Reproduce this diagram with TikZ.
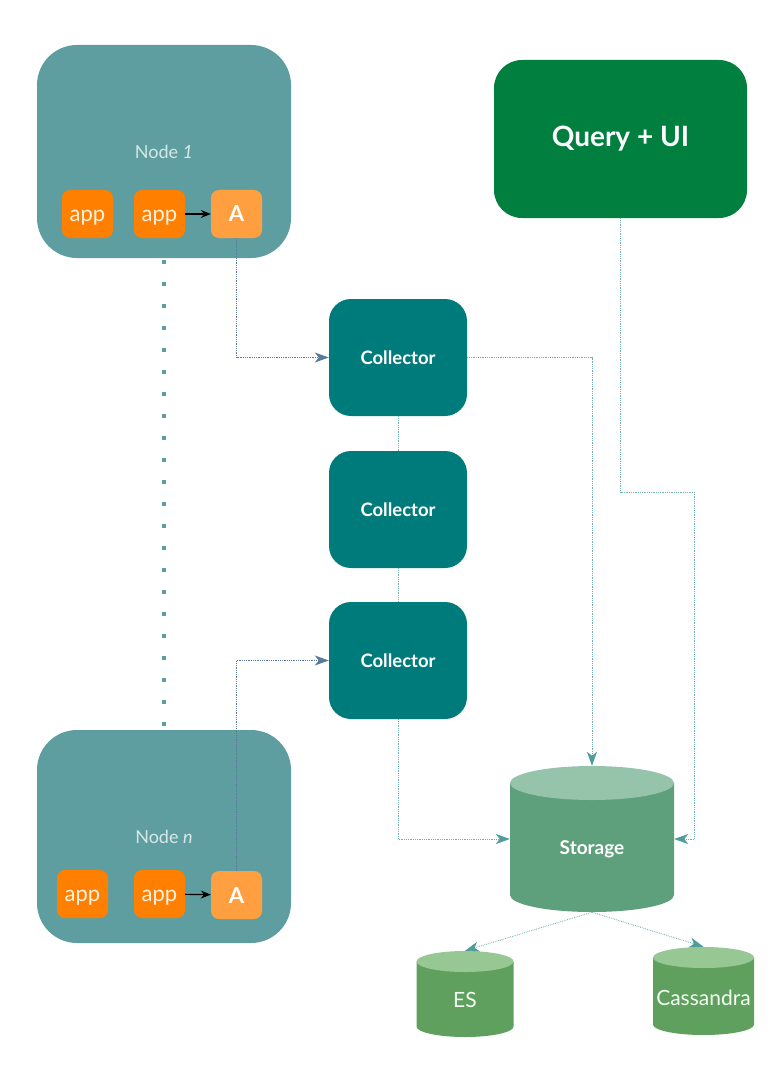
\documentclass[tikz,border=0pt]{standalone}
\usepackage{fontspec}
\setmainfont{Lato}
\usetikzlibrary{arrows.meta}
\definecolor{hostbg}{HTML}{5F9EA0}
\definecolor{appbg}{HTML}{FF8000}
\definecolor{agentbg}{HTML}{FF9F3F}
\definecolor{querybg}{HTML}{007F3F}
\definecolor{collbg}{HTML}{007B7B}
\definecolor{storebody}{HTML}{5FA07C}
\definecolor{storetop}{HTML}{96C4AA}
\definecolor{dbbody}{HTML}{5FA05F}
\definecolor{dbtop}{HTML}{97C893}
\definecolor{slate}{HTML}{5A7A99}
\definecolor{tealline}{HTML}{4E9C9C}

\begin{document}
\begin{tikzpicture}[x=1pt,y=-1pt,
   host/.style={fill=hostbg,rounded corners=40pt,minimum width=254pt,minimum height=213pt,inner sep=0pt,text=hostbg!25!white,font=\fontsize{18}{20}\selectfont},
   app/.style={fill=appbg,rounded corners=8pt,minimum width=51pt,minimum height=48pt,inner sep=0pt,text=orange!10!white,font=\fontsize{22}{24}\selectfont,text height=14pt,text depth=0pt},
   agent/.style={app,fill=agentbg,text=white,font=\fontsize{22}{24}\selectfont\bfseries,text height=16pt},
   collector/.style={fill=collbg,rounded corners=22pt,minimum width=138pt,minimum height=117pt,inner sep=0pt,text=white,font=\fontsize{18.5}{20}\selectfont\bfseries},
   db/.style n args={5}{inner sep=0pt,minimum width=#1,minimum height=#2,text depth=0pt,
      path picture={
         \fill[#4] ([yshift=-#3]path picture bounding box.north west) -- ([yshift=#3]path picture bounding box.south west)
            arc[start angle=180,end angle=360,x radius=#1/2,y radius=#3] -- ([yshift=-#3]path picture bounding box.north east) -- cycle;
         \fill[#5] ([yshift=-#3]path picture bounding box.north) ellipse[x radius=#1/2,y radius=#3];
      }},
   flow/.style={densely dotted,line width=0.8pt,tealline!80!white,-{Stealth[length=14pt,width=10pt,inset=4pt,tealline]}},
   feed/.style={flow,slate,-{Stealth[length=14pt,width=10pt,inset=4pt,slate]}}]
   \useasboundingbox[fill=white] (0,0) rectangle (768,1086);

   \node[host] (node1) at (164,151.5) {Node \textit{1}};
   \node[app] (app11) at (87.5,214) {app};
   \node[app] (app12) at (159.5,214) {app};
   \node[agent] (agent1) at (236.5,214) {A};
   \draw[black,-{Stealth[length=10pt,width=8pt]},line width=1.2pt] (app12)--(agent1);

   \node[host] (noden) at (164,836.5) {Node \textit{n}};
   \node[app] (appn1) at (82.5,894) {app};
   \node[app] (appn2) at (159.5,894) {app};
   \node[agent] (agentn) at (236.5,895) {A};
   \draw[black,-{Stealth[length=10pt,width=8pt]},line width=1.2pt] (appn2)--(agentn);

   \draw[hostbg,line width=4pt,dash pattern=on 4pt off 18pt,shorten <=2pt,shorten >=2pt] (node1.south)--(noden.north);

   \node[fill=querybg,rounded corners=28pt,minimum width=253pt,minimum height=158pt,text=white,font=\fontsize{28}{30}\selectfont\bfseries] (query) at (620.5,139) {Query + UI};

   \node[collector] (coll1) at (398,357.5) {Collector};
   \node[collector] (coll2) at (398,509.5) {Collector};
   \node[collector] (coll3) at (398,660.5) {Collector};
   \draw[densely dotted,line width=0.8pt,tealline!80!white] (coll1)--(coll2) (coll2)--(coll3);

   \node[db={164pt}{146pt}{17pt}{storebody}{storetop},text height=31pt,text=white,font=\fontsize{19}{20}\selectfont\bfseries] (storage) at (592,839) {Storage};
   \node[db={97pt}{86pt}{10.5pt}{dbbody}{dbtop},text height=27pt,text=green!5!white,font=\fontsize{21}{22}\selectfont] (es) at (465,994) {ES};
   \node[db={101pt}{88pt}{10.5pt}{dbbody}{dbtop},text height=28pt,text=green!5!white,font=\fontsize{21}{22}\selectfont] (cass) at (703.5,991) {Cassandra};

   \draw[feed] (agent1.south) |- (coll1.west);
   \draw[feed] (agentn.north) |- (coll3.west);
   \draw[flow] (coll1.east) -| (storage.north);
   \draw[flow] (coll3.south) |- (storage.west);
   \draw[flow] (query.south) -- ++(0,274) -| ([xshift=20pt]storage.east) -- (storage.east);
   \draw[flow] (storage.south) -- (es.north);
   \draw[flow] (storage.south) -- (cass.north);
\end{tikzpicture}
\end{document}
